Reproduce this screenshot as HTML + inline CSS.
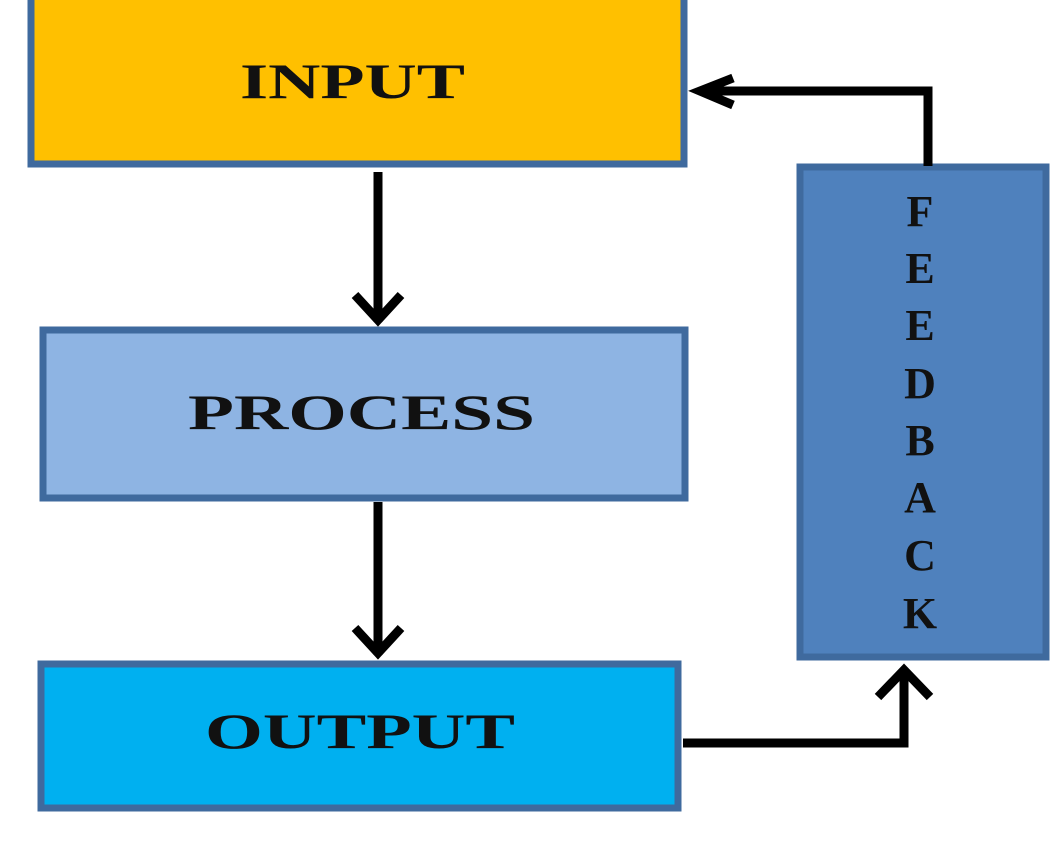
<!DOCTYPE html>
<html><head><style>
html,body{margin:0;padding:0;background:#fff;}
svg{display:block;}
text{font-family:"Liberation Serif",serif;font-weight:bold;fill:#111;}
</style></head><body>
<svg width="1061" height="841" viewBox="0 0 1061 841" xmlns="http://www.w3.org/2000/svg">
<rect x="0" y="0" width="1061" height="841" fill="#fff"/>
<rect x="31" y="-4" width="653" height="168" fill="#FFC000" stroke="#3F6A9E" stroke-width="7"/>
<rect x="43" y="330" width="642" height="168" fill="#8EB4E3" stroke="#3F6A9E" stroke-width="7"/>
<rect x="41" y="664" width="637" height="144" fill="#00B0F0" stroke="#3F6A9E" stroke-width="7"/>
<rect x="800" y="167" width="246" height="490" fill="#4F81BD" stroke="#3F6A9E" stroke-width="7"/>
<text x="240" y="98" font-size="50" textLength="225" lengthAdjust="spacingAndGlyphs">INPUT</text>
<text x="188" y="429" font-size="50" textLength="347" lengthAdjust="spacingAndGlyphs">PROCESS</text>
<text x="205" y="748" font-size="50" textLength="310" lengthAdjust="spacingAndGlyphs">OUTPUT</text>
<g font-size="44" text-anchor="middle">
<text x="920" y="226">F</text>
<text x="920" y="283">E</text>
<text x="920" y="340">E</text>
<text x="920" y="398">D</text>
<text x="920" y="455">B</text>
<text x="920" y="512">A</text>
<text x="920" y="570">C</text>
<text x="920" y="628">K</text>
</g>
<g stroke="#000" stroke-width="9" fill="none" stroke-linecap="butt" stroke-linejoin="miter">
<line x1="378" y1="172" x2="378" y2="322"/>
<polyline points="355,295 378,320 401,295"/>
<line x1="378" y1="502" x2="378" y2="655"/>
<polyline points="355,628 378,653 401,628"/>
<polyline points="928,166 928,91 700,91"/>
<polyline points="733,78 700,91 733,105"/>
<polyline points="683,743 904,743 904,670"/>
<polyline points="878,697 904,670 930,697"/>
</g>
</svg>
</body></html>
